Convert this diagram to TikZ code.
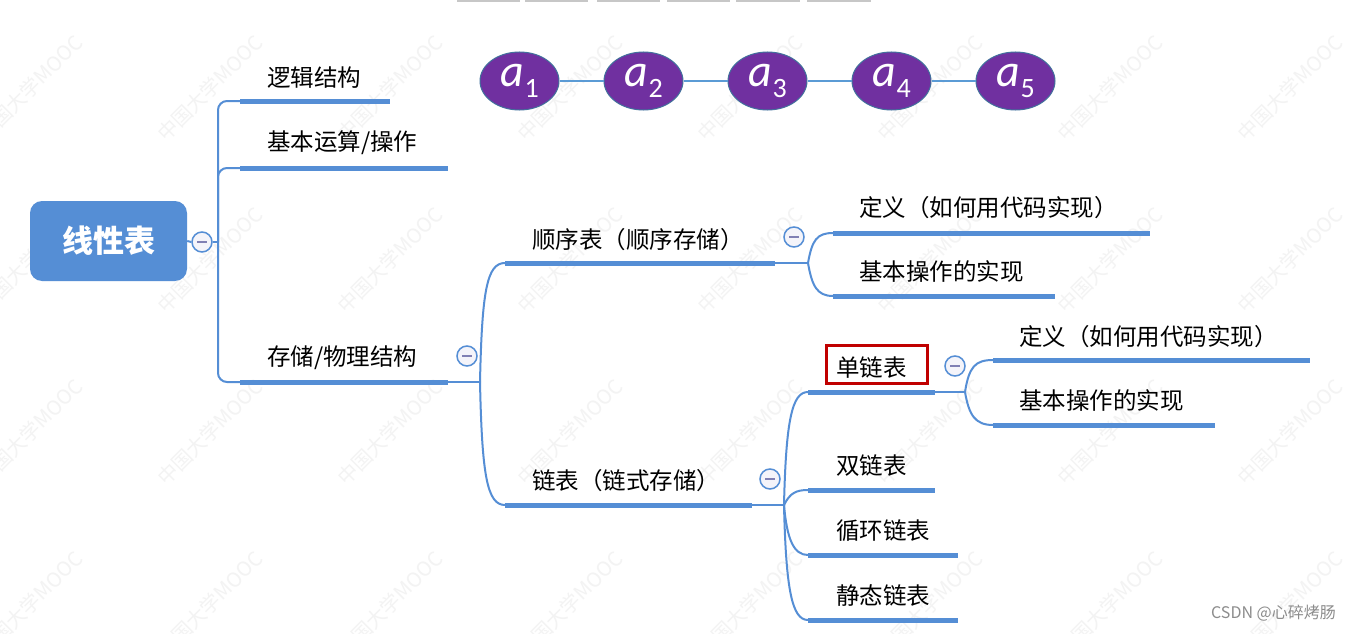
\documentclass[tikz,border=0pt]{standalone}
\usepackage{fontspec}
\setmainfont{Liberation Sans}
\newfontfamily\cjk{Noto Sans CJK SC}
\newfontfamily\calib{Carlito}
\usetikzlibrary{shapes.geometric}
\definecolor{mblue}{RGB}{85,142,213}
\definecolor{purp}{RGB}{112,48,160}
\definecolor{eborder}{RGB}{65,113,156}
\definecolor{lineblue}{RGB}{91,155,213}
\definecolor{redbox}{RGB}{192,0,0}
\definecolor{minuscol}{RGB}{128,128,180}
\definecolor{togfill}{RGB}{244,244,250}
\definecolor{wmark}{RGB}{243,243,243}
\tikzset{
  lbl/.style={anchor=west, font=\cjk\fontsize{23.5}{27}\selectfont, inner sep=0pt, text=black},
  uline/.style={line width=5pt, mblue},
  conn/.style={line width=2pt, mblue},
  toggle/.style={circle, draw=mblue, line width=1.5pt, fill=togfill, minimum size=20pt, inner sep=0pt,
    path picture={\draw[minuscol, line width=2pt] ([xshift=-5pt]path picture bounding box.center) -- ([xshift=5pt]path picture bounding box.center);}},
  rootbox/.style={fill=mblue, rounded corners=12pt, minimum width=157pt, minimum height=80pt, text=white,
    font=\cjk\bfseries\fontsize{31}{34}\selectfont},
  elem/.style={ellipse, fill=purp, draw=eborder, line width=1pt, minimum width=79pt, minimum height=58pt, inner sep=0pt, text=white},
  eline/.style={lineblue, line width=2pt},
  wm/.style={text=wmark, rotate=45, font=\cjk\fontsize{20}{22}\selectfont},
  topbar/.style={fill=black!22, draw=none}
}
\newcommand{\elabel}[1]{{\calib\itshape\fontsize{46}{46}\selectfont a\kern1pt\raisebox{-0.25em}{\upshape\fontsize{28}{28}\selectfont #1}}}
\begin{document}
\begin{tikzpicture}[x=1pt, y=-1pt]
\useasboundingbox (0,0) rectangle (1350,634);
\fill[white] (0,0) rectangle (1350,634);
% watermarks
\foreach \y in {88,260,432,604}{
  \foreach \x in {30,210,390,570,750,930,1110,1290}{
    \node[wm] at (\x,\y) {中国大学MOOC};
  }
}
% top bars
\foreach \a/\b in {457/520,525/588,597/660,667/730,736/800,807/871}{
  \fill[topbar] (\a,0) rectangle (\b,2.5);
}
% elements
\node[elem] (a1) at (519.5,81) {\elabel{1}};
\node[elem] (a2) at (643.5,81) {\elabel{2}};
\node[elem] (a3) at (767.5,81) {\elabel{3}};
\node[elem] (a4) at (891.5,81) {\elabel{4}};
\node[elem] (a5) at (1015.5,81) {\elabel{5}};
\draw[eline] (a1) -- (a2);
\draw[eline] (a2) -- (a3);
\draw[eline] (a3) -- (a4);
\draw[eline] (a4) -- (a5);
% root
\node[rootbox] (root) at (108.5,241) {线性表};
\node[toggle] (t0) at (202,242) {};
\coordinate (j0) at (218,242);
\draw[conn] (root.east) -- (t0.west);
\draw[conn] (t0.east) -- (j0);
% level 1
\coordinate (lj-s) at (240,101); \coordinate (lj-e) at (390,101);
\coordinate (jb-s) at (240,168); \coordinate (jb-e) at (448,168);
\coordinate (cc-s) at (240,382); \coordinate (cc-e) at (448,382);
\draw[uline] (lj-s) -- (lj-e);
\draw[uline] (jb-s) -- (jb-e);
\draw[uline] (cc-s) -- (cc-e);
\node[lbl] (ljt) at (267,78) {逻辑结构};
\node[lbl] (jbt) at (267,143) {基本运算/操作};
\node[lbl] (cct) at (267,358) {存储/物理结构};
\draw[conn, rounded corners=9pt] (j0) |- (lj-s);
\draw[conn, rounded corners=9pt] (j0) |- (jb-s);
\draw[conn, rounded corners=9pt] (j0) |- (cc-s);
% level 2
\node[toggle] (t1) at (467,356) {};
\coordinate (j1) at (480,382);
\draw[conn] (cc-e) -- (j1);
\coordinate (sx-s) at (505,263); \coordinate (sx-e) at (775,263);
\coordinate (lb-s) at (505,505); \coordinate (lb-e) at (752,505);
\draw[uline] (sx-s) -- (sx-e);
\draw[uline] (lb-s) -- (lb-e);
\node[lbl] (sxt) at (532,240) {顺序表（顺序存储）};
\node[lbl] (lbt) at (532,481) {链表（链式存储）};
\draw[conn] (j1) .. controls (482,290) and (487,263) .. (sx-s);
\draw[conn] (j1) .. controls (482,475) and (487,505) .. (lb-s);
% level 3 under 顺序表
\node[toggle] (t2) at (794,237) {};
\coordinate (j2) at (808,263);
\draw[conn] (sx-e) -- (j2);
\coordinate (dy1-s) at (833,233); \coordinate (dy1-e) at (1150,233);
\coordinate (jc1-s) at (833,296); \coordinate (jc1-e) at (1055,296);
\draw[uline] (dy1-s) -- (dy1-e);
\draw[uline] (jc1-s) -- (jc1-e);
\node[lbl] (dy1t) at (859,208) {定义（如何用代码实现）};
\node[lbl] (jc1t) at (859,272) {基本操作的实现};
\draw[conn] (j2) .. controls (812,240) and (817,233) .. (dy1-s);
\draw[conn] (j2) .. controls (812,286) and (817,296) .. (jc1-s);
% level 3 under 链表
\node[toggle] (t3) at (770,479) {};
\coordinate (j3) at (784,505);
\draw[conn] (lb-e) -- (j3);
\coordinate (dl-s) at (808,392); \coordinate (dl-e) at (935,392);
\coordinate (sl-s) at (808,490); \coordinate (sl-e) at (935,490);
\coordinate (xh-s) at (808,555); \coordinate (xh-e) at (958,555);
\coordinate (jt-s) at (808,620); \coordinate (jt-e) at (958,620);
\draw[uline] (dl-s) -- (dl-e);
\draw[uline] (sl-s) -- (sl-e);
\draw[uline] (xh-s) -- (xh-e);
\draw[uline] (jt-s) -- (jt-e);
\node[lbl] (dlt) at (836,368) {单链表};
\node[lbl] (slt) at (836,466) {双链表};
\node[lbl] (xht) at (836,531) {循环链表};
\node[lbl] (jtt) at (836,596) {静态链表};
\node[draw=redbox, line width=3pt, minimum width=101pt, minimum height=38pt, inner sep=0pt] (rbox) at (876.5,364) {};
\draw[conn] (j3) .. controls (786,420) and (792,392) .. (dl-s);
\draw[conn] (j3) .. controls (790,493) and (796,490) .. (sl-s);
\draw[conn] (j3) .. controls (787,540) and (794,555) .. (xh-s);
\draw[conn] (j3) .. controls (786,590) and (792,620) .. (jt-s);
% level 4 under 单链表
\node[toggle] (t4) at (955,366) {};
\coordinate (j4) at (965,392);
\draw[conn] (dl-e) -- (j4);
\coordinate (dy2-s) at (993,360); \coordinate (dy2-e) at (1310,360);
\coordinate (jc2-s) at (993,425); \coordinate (jc2-e) at (1215,425);
\draw[uline] (dy2-s) -- (dy2-e);
\draw[uline] (jc2-s) -- (jc2-e);
\node[lbl] (dy2t) at (1019,337) {定义（如何用代码实现）};
\node[lbl] (jc2t) at (1019,401) {基本操作的实现};
\draw[conn] (j4) .. controls (969,367) and (975,360) .. (dy2-s);
\draw[conn] (j4) .. controls (969,415) and (975,425) .. (jc2-s);
% credit
\node[anchor=east, text=black!45, font=\cjk\fontsize{16}{18}\selectfont, inner sep=0pt] (credit) at (1336,613) {CSDN @心碎烤肠};
\end{tikzpicture}
\end{document}
